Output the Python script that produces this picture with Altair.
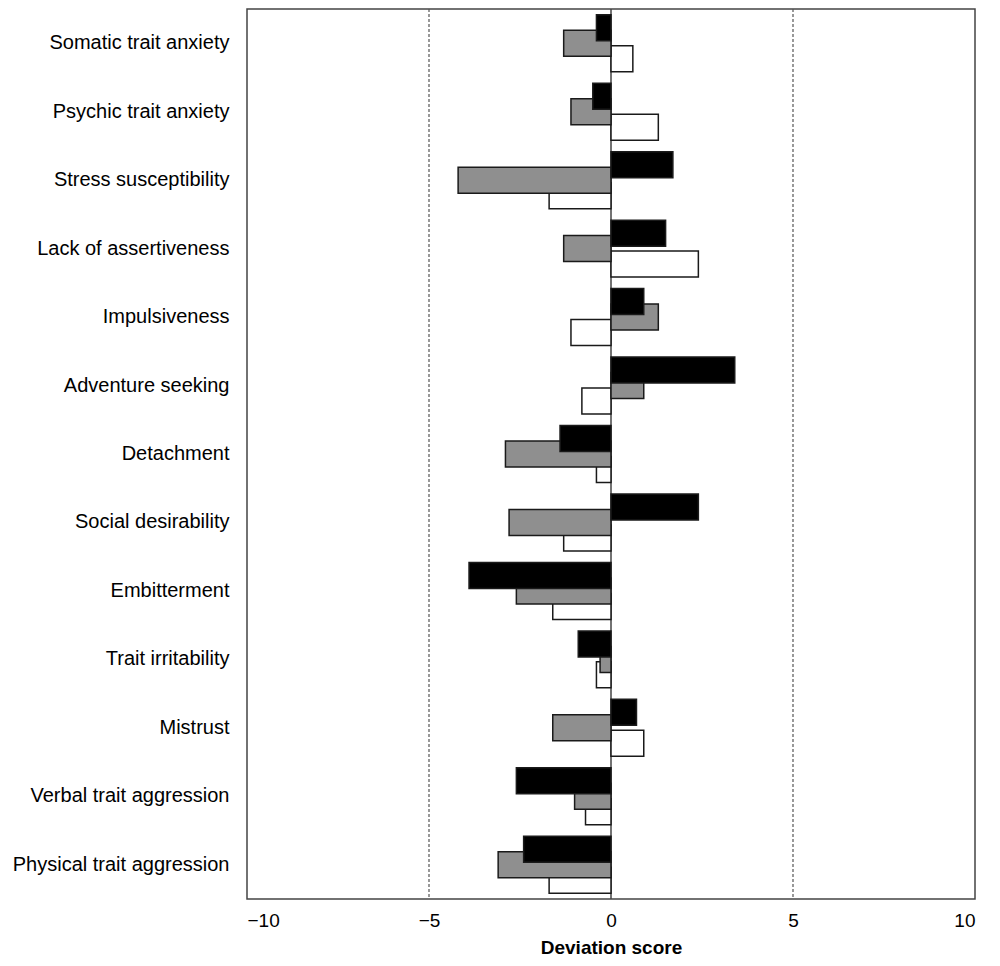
import altair as alt
import pandas as pd

categories = [
    "Somatic trait anxiety",
    "Psychic trait anxiety",
    "Stress susceptibility",
    "Lack of assertiveness",
    "Impulsiveness",
    "Adventure seeking",
    "Detachment",
    "Social desirability",
    "Embitterment",
    "Trait irritability",
    "Mistrust",
    "Verbal trait aggression",
    "Physical trait aggression",
]
series_names = ["Series 1", "Series 2", "Series 3"]
series_colors = ["#000000", "#8f8f8f", "#ffffff"]

black_vals = [-0.4, -0.5, 1.7, 1.5, 0.9, 3.4, -1.4, 2.4, -3.9, -0.9, 0.7, -2.6, -2.4]
gray_vals = [-1.3, -1.1, -4.2, -1.3, 1.3, 0.9, -2.9, -2.8, -2.6, -0.3, -1.6, -1.0, -3.1]
white_vals = [0.6, 1.3, -1.7, 2.4, -1.1, -0.8, -0.4, -1.3, -1.6, -0.4, 0.9, -0.7, -1.7]

ref_dashed = [-5, 5]
ref_zero = [0]

rows = []
# draw order: white first, then gray, then black on top
for name, vals in [(series_names[2], white_vals), (series_names[1], gray_vals), (series_names[0], black_vals)]:
    for c, v in zip(categories, vals):
        rows.append({"category": c, "series": name, "value": v})
df = pd.DataFrame(rows)

x_scale = alt.Scale(domain=[-10, 10], nice=False, zero=False)

bars = alt.Chart(df).mark_bar(size=26, stroke="#1a1a1a", strokeWidth=1.5).encode(
    x=alt.X(
        "value:Q",
        scale=x_scale,
        stack=None,
        axis=alt.Axis(
            title="Deviation score",
            values=[-10, -5, 0, 5, 10],
            grid=False,
            ticks=False,
            domain=False,
            labelFont="Liberation Sans",
            labelFontSize=19,
            labelColor="black",
            labelPadding=12,
            titleFont="Liberation Sans",
            titleFontSize=19,
            titleFontWeight="bold",
            titleColor="black",
            titlePadding=8,
        ),
    ),
    y=alt.Y(
        "category:N",
        sort=categories,
        scale=alt.Scale(paddingInner=0, paddingOuter=0),
        axis=alt.Axis(
            title=None,
            ticks=False,
            domain=False,
            labelFont="Liberation Sans",
            labelFontSize=20,
            labelColor="black",
            labelPadding=18,
            labelLimit=400,
        ),
    ),
    yOffset=alt.YOffset(
        "series:N",
        sort=series_names,
        scale=alt.Scale(domain=series_names, paddingInner=0, paddingOuter=0.71),
    ),
    color=alt.Color(
        "series:N",
        scale=alt.Scale(domain=series_names, range=series_colors),
        legend=None,
    ),
)

dashed = alt.Chart(pd.DataFrame({"x": ref_dashed})).mark_rule(
    color="#555555", strokeDash=[3, 2], strokeWidth=1.2
).encode(x=alt.X("x:Q", scale=x_scale))

zero = alt.Chart(pd.DataFrame({"x": ref_zero})).mark_rule(
    color="#444444", strokeWidth=1.5
).encode(x=alt.X("x:Q", scale=x_scale))

chart = alt.layer(dashed, zero, bars).properties(
    width=728,
    height=890,
    autosize=alt.AutoSizeParams(type="none"),
    padding={"left": 239, "top": 1, "right": 10, "bottom": 57},
).configure(
    background="white",
    view=alt.ViewConfig(stroke="#444444", strokeWidth=1.5),
)

chart.save("out.html", embed_options={"renderer": "svg", "actions": False})
